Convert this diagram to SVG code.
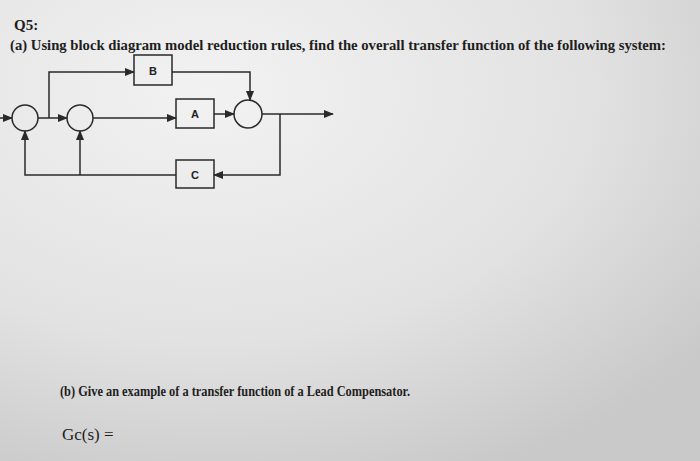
<svg xmlns="http://www.w3.org/2000/svg" width="700" height="461" viewBox="0 0 700 461">
<defs>
<radialGradient id="bg" cx="0.3" cy="0.2" r="0.9"><stop offset="0" stop-color="#f2f2f2"/><stop offset="0.6" stop-color="#e2e2e2"/><stop offset="1" stop-color="#c9c9c9"/></radialGradient>
<marker id="ah" viewBox="0 0 10 10" refX="9" refY="5" markerWidth="7" markerHeight="7" orient="auto"><path d="M0,1 L10,5 L0,9 z" fill="#2a2a2a"/></marker>
</defs>
<style>
.t{font-family:"Liberation Serif",serif;fill:#1e1e1e}
.b{fill:none;stroke:#2a2a2a;stroke-width:1.5}
.l{font-family:"Liberation Sans",sans-serif;font-size:11px;font-weight:bold;fill:#222;text-anchor:middle}
.c{fill:none;stroke:#2a2a2a;stroke-width:1.5}
</style>
<rect width="700" height="461" fill="url(#bg)"/>
<text class="t" x="14" y="30" font-size="15" font-weight="bold" font-family="Liberation Sans, sans-serif">Q5:</text>
<text class="t" x="10" y="50" font-size="14" font-weight="bold" textLength="656" lengthAdjust="spacingAndGlyphs">(a) Using block diagram model reduction rules, find the overall transfer function of the following system:</text>
<text class="t" x="60" y="396" font-size="14" font-weight="bold" textLength="350" lengthAdjust="spacingAndGlyphs">(b) Give an example of a transfer function of a Lead Compensator.</text>
<text class="t" x="62" y="440" font-size="17">Gc(s) =</text>
<g id="sum1"><circle class="b" cx="25" cy="118" r="13"/></g>
<g id="sum2"><circle class="b" cx="80" cy="118" r="13"/></g>
<g id="sum3"><circle class="b" cx="248" cy="114" r="14"/></g>
<g id="B"><rect class="b" x="134" y="55" width="38" height="30"/><text class="l" x="153" y="75">B</text></g>
<g id="A"><rect class="b" x="176" y="99" width="38" height="29"/><text class="l" x="195" y="118">A</text></g>
<g id="C"><rect class="b" x="176" y="160" width="38" height="28"/><text class="l" x="195" y="179">C</text></g>
<g id="connectors">
<path class="c" d="M0,118 H12" marker-end="url(#ah)"/>
<path class="c" d="M38,118 H67" marker-end="url(#ah)"/>
<path class="c" d="M49,118 V72 H134" marker-end="url(#ah)"/>
<path class="c" d="M93,118 H176" marker-end="url(#ah)"/>
<path class="c" d="M214,114 H234" marker-end="url(#ah)"/>
<path class="c" d="M172,72 H250 V100" marker-end="url(#ah)"/>
<path class="c" d="M262,114 H333" marker-end="url(#ah)"/>
<path class="c" d="M280,114 V175 H214" marker-end="url(#ah)"/>
<path class="c" d="M176,175 H25 V131" marker-end="url(#ah)"/>
<path class="c" d="M80,175 V131" marker-end="url(#ah)"/>
</g>
</svg>
